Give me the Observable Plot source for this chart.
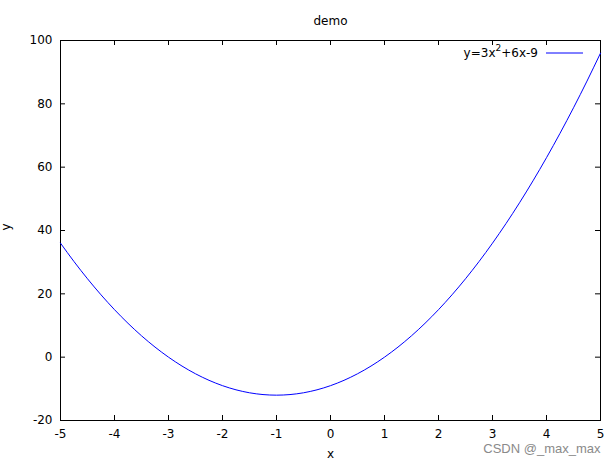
<!DOCTYPE html>
<html>
<head>
<meta charset="utf-8">
<script src="https://cdn.jsdelivr.net/npm/d3@7"></script>
<script src="https://cdn.jsdelivr.net/npm/@observablehq/plot@0.6"></script>
<style>
  html, body { margin: 0; padding: 0; background: #fff; }
  svg { display: block; }
</style>
</head>
<body>
<div id="chart"></div>
<script>
const xValues = [-5, -4.75, -4.5, -4.25, -4, -3.75, -3.5, -3.25, -3, -2.75, -2.5, -2.25, -2, -1.75, -1.5, -1.25, -1,
  -0.75, -0.5, -0.25, 0, 0.25, 0.5, 0.75, 1, 1.25, 1.5, 1.75, 2, 2.25, 2.5, 2.75, 3, 3.25, 3.5, 3.75, 4, 4.25, 4.5, 4.75, 5];
const yValues = [36, 30.19, 24.75, 19.69, 15, 10.69, 6.75, 3.19, 0, -2.81, -5.25, -7.31, -9, -10.31, -11.25, -11.81, -12,
  -11.81, -11.25, -10.31, -9, -7.31, -5.25, -2.81, 0, 3.19, 6.75, 10.69, 15, 19.69, 24.75, 30.19, 36, 42.19, 48.75, 55.69, 63, 70.69, 78.75, 87.19, 96];
const xTicks = [-5, -4, -3, -2, -1, 0, 1, 2, 3, 4, 5];
const yTicks = [-20, 0, 20, 40, 60, 80, 100];
const seriesLabel = "y=3x";
const seriesLabelSup = "2";
const seriesLabelRest = "+6x-9";
const title = "demo";
const xLabel = "x";
const yLabel = "y";
const watermark = "CSDN @_max_max";

const data = xValues.map((x, i) => ({x, y: yValues[i]}));

const W = 616, H = 466;
const mL = 60, mR = 16, mT = 40, mB = 46;
const plotH = H - mT - mB, plotW = W - mL - mR;
const font = "DejaVu Sans, sans-serif";
const fmt = d => String(d); // plain hyphen-minus like gnuplot

const chart = Plot.plot({
  width: W,
  height: H,
  marginLeft: mL,
  marginRight: mR,
  marginTop: mT,
  marginBottom: mB,
  style: {fontFamily: font, fontSize: "12px", color: "#000", background: "#fff"},
  x: {domain: [-5, 5]},
  y: {domain: [-20, 100]},
  marks: [
    Plot.frame({stroke: "#000", strokeWidth: 1}),
    // inward ticks, mirrored on all sides
    Plot.tickX(xTicks, {x: d => d, insetTop: plotH - 5, stroke: "#000"}),
    Plot.tickX(xTicks, {x: d => d, insetBottom: plotH - 5, stroke: "#000"}),
    Plot.tickY(yTicks, {y: d => d, insetRight: plotW - 5, stroke: "#000"}),
    Plot.tickY(yTicks, {y: d => d, insetLeft: plotW - 5, stroke: "#000"}),
    Plot.axisX(xTicks, {tickSize: 0, tickPadding: 9, label: null, fontSize: 12, tickFormat: fmt}),
    Plot.axisY(yTicks, {tickSize: 0, tickPadding: 8, label: null, fontSize: 12, tickFormat: fmt}),
    Plot.line(data, {x: "x", y: "y", stroke: "#0000ff", strokeWidth: 1, curve: "natural"}),
    Plot.text([title], {frameAnchor: "top", dy: -24, text: d => d, fontSize: 12}),
    Plot.text([xLabel], {frameAnchor: "bottom", dy: 37, text: d => d, fontSize: 12}),
    Plot.text([yLabel], {frameAnchor: "left", dx: -54, rotate: -90, text: d => d, fontSize: 12}),
    Plot.text([watermark], {frameAnchor: "bottom-right", textAnchor: "end", dy: 32, dx: 0, text: d => d, fontSize: 13, fill: "#8a8a8a", fontFamily: "Liberation Sans, Arial, sans-serif"})
  ]
});

// legend entry (top-right, inside the frame)
const svg = d3.select(chart);
const lx = W - mR - 62, ly = mT + 13;
const t = svg.append("text")
  .attr("x", lx).attr("y", ly)
  .attr("text-anchor", "end")
  .attr("dominant-baseline", "middle")
  .attr("font-family", font)
  .attr("font-size", 12)
  .attr("fill", "#000");
t.append("tspan").text(seriesLabel);
t.append("tspan").attr("font-size", 9).attr("dy", -5).text(seriesLabelSup);
t.append("tspan").attr("dy", 5).text(seriesLabelRest);
svg.append("line")
  .attr("x1", W - mR - 54).attr("x2", W - mR - 17)
  .attr("y1", ly).attr("y2", ly)
  .attr("stroke", "#0000ff").attr("stroke-width", 1);

document.getElementById("chart").append(chart);
</script>
</body>
</html>
